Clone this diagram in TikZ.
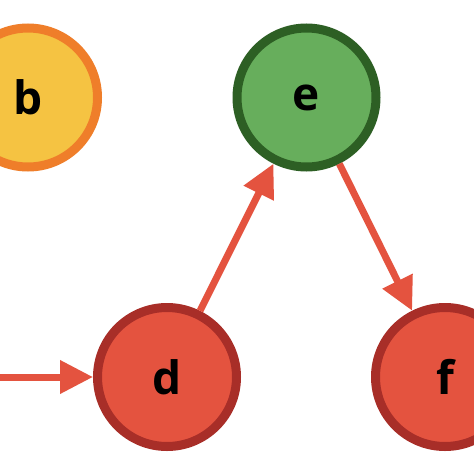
\documentclass[tikz,border=0pt]{standalone}
\usepackage{fontspec}
\setmainfont{Open Sans}
\usetikzlibrary{arrows.meta}
\definecolor{redfill}{HTML}{E4533F}
\definecolor{redring}{HTML}{A82E28}
\definecolor{greenfill}{HTML}{67AE5C}
\definecolor{greenring}{HTML}{2D5F24}
\definecolor{yellowfill}{HTML}{F5C342}
\definecolor{orangering}{HTML}{EF7E2A}
\definecolor{arrowred}{HTML}{E4533F}
\tikzset{
  vert/.style={circle, line width=9pt, minimum size=139pt, inner sep=0pt,
    font=\fontsize{46}{46}\selectfont\bfseries, text=black},
  redv/.style={vert, fill=redfill, draw=redring},
  greenv/.style={vert, fill=greenfill, draw=greenring},
  yellowv/.style={vert, fill=yellowfill, draw=orangering},
  edge/.style={draw=arrowred, line width=7pt, -{Triangle[length=33pt,width=32pt]}}
}
\begin{document}
\begin{tikzpicture}[x=1pt,y=-1pt]
\path[use as bounding box, clip] (0,0) rectangle (474,474);
\fill[white] (0,0) rectangle (474,474);
\coordinate (a) at (-111,377);
\node[yellowv] (b) at (28,97.5) {b};
\node[greenv] (e) at (306.5,97.5) {e};
\node[redv] (d) at (167,377) {d};
\node[redv] (f) at (445,377) {f};
\draw[edge] (a) -- (d);
\draw[edge] (d) -- (e);
\draw[edge] (e) -- (f);
\end{tikzpicture}
\end{document}
